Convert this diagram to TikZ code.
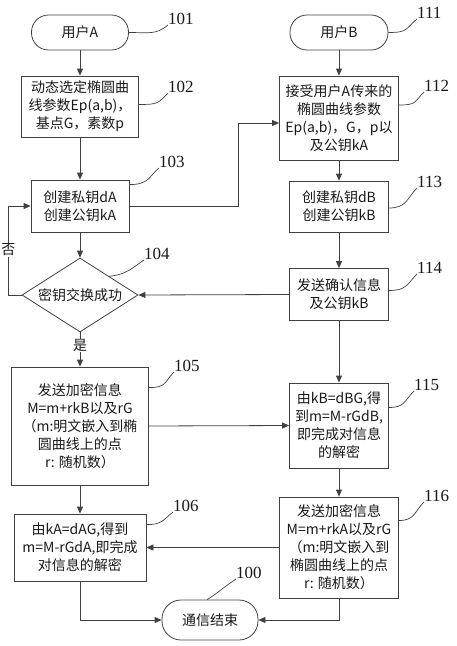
\documentclass[tikz,border=0pt]{standalone}
\usepackage{fontspec}
\setmainfont{Noto Sans CJK SC}
\newfontfamily\numfont{Liberation Serif}
\usetikzlibrary{arrows.meta,shapes.geometric}
\begin{document}
\begin{tikzpicture}[x=1pt,y=-1pt,
  every node/.style={font=\fontsize{14}{18}\selectfont, text=black!90},
  box/.style={draw=black!75, line width=0.8pt, inner sep=0pt, align=center},
  term/.style={box, rounded corners=17pt},
  lbl/.style={font=\numfont\fontsize{17}{17}\selectfont, inner sep=0pt, anchor=south west},
  arr/.style={draw=black!75, line width=0.8pt, -{Triangle[length=7pt,width=6pt]}},
  lead/.style={draw=black!75, line width=0.7pt},
]
\useasboundingbox (0,0) rectangle (456,646);

% left column
\node[term, minimum width=97pt, minimum height=35pt] (uA) at (80,32.5) {用户A};
\node[box, minimum width=117pt, minimum height=61pt] (b102) at (80,106.5) {动态选定椭圆曲\\线参数Ep(a,b)，\\基点G，素数p};
\node[box, minimum width=98pt, minimum height=52pt] (b103) at (80,206) {创建私钥dA\\创建公钥kA};
\node[draw=black!75, line width=0.8pt, diamond, aspect=1.57, minimum width=116pt, minimum height=74pt, inner sep=0pt] (d104) at (80,295) {密钥交换成功};
\node[box, minimum width=137pt, minimum height=118pt] (b105) at (80,426) {发送加密信息\\M=m+rkB以及rG\\（m:明文嵌入到椭\\圆曲线上的点\\r: 随机数）};
\node[box, minimum width=132pt, minimum height=67pt] (b106) at (80,547.5) {由kA=dAG,得到\\m=M-rGdA,即完成\\对信息的解密};
\node[term, minimum width=96pt, minimum height=40pt, rounded corners=19pt] (end) at (210,620) {通信结束};

% right column
\node[term, minimum width=98pt, minimum height=35pt] (uB) at (339,32.5) {用户B};
\node[box, minimum width=119pt, minimum height=84pt] (b112) at (339,118) {接受用户A传来的\\椭圆曲线参数\\Ep(a,b)，G，p以\\及公钥kA};
\node[box, minimum width=99pt, minimum height=51pt] (b113) at (339,206.5) {创建私钥dB\\创建公钥kB};
\node[box, minimum width=99pt, minimum height=52pt] (b114) at (339,294.5) {发送确认信息\\及公钥kB};
\node[box, minimum width=99pt, minimum height=85pt] (b115) at (339,425.5) {由kB=dBG,得\\到m=M-rGdB,\\即完成对信息\\的解密};
\node[box, minimum width=119pt, minimum height=101pt] (b116) at (339,547.5) {发送加密信息\\M=m+rkA以及rG\\（m:明文嵌入到\\椭圆曲线上的点\\r: 随机数）};

% connectors left
\draw[arr] (uA) -- (b102);
\draw[arr] (b102) -- (b103);
\draw[arr] (b103) -- (d104);
\draw[arr] (d104) -- node[pos=0.38, fill=white, inner sep=0.5pt] (yes) {是} (b105);
\draw[arr] (b105) -- (b106);
\coordinate (lp) at (8,295);
\draw[arr] (d104.west) -- (lp) |- (b103.west);
\node[fill=white, inner sep=0.5pt] (no) at (8.5,250) {否};
\draw[arr] (b106.south) |- (end.west);

% connectors right
\draw[arr] (uB) -- (b112);
\draw[arr] (b112) -- (b113);
\draw[arr] (b113) -- (b114);
\draw[arr] (b114) -- (b115);
\draw[arr] (b115) -- (b116);
\coordinate (j1) at (238,206);
\draw[arr] (b103.east) -- (j1) |- ([yshift=-5pt]b112.west);
\draw[arr] (b114.west) -- (d104.east);
\draw[arr] (b105.east) -- (b115.west);
\draw[arr] (b116.west) -- (b106.east);
\draw[arr] (b116.south) |- (end.east);

% labels
\node[lbl] (l101) at (168,25) {101};
\node[lbl] (l102) at (168,93) {102};
\node[lbl] (l103) at (159,168) {103};
\node[lbl] (l104) at (144,260) {104};
\node[lbl] (l105) at (174,372) {105};
\node[lbl] (l106) at (173,512) {106};
\node[lbl] (l100) at (236,579) {100};
\node[lbl] (l111) at (417,19) {111};
\node[lbl] (l112) at (424,92) {112};
\node[lbl] (l113) at (417,188) {113};
\node[lbl] (l114) at (417,274) {114};
\node[lbl] (l115) at (414,391) {115};
\node[lbl] (l116) at (424,502) {116};

% leaders
\draw[lead] (uA.east) .. controls +(20,0) and +(-12,10) .. (l101.south west);
\draw[lead] ([yshift=2pt]b102.east) .. controls +(20,0) and +(-10,10) .. (l102.south west);
\draw[lead] ([yshift=-5pt]b103.north east) .. controls +(20,0) and +(-10,8) .. (l103.south west);
\draw[lead] (d104.north east) .. controls +(18,-2) and +(-12,8) .. (l104.south west);
\draw[lead] ([yshift=-21pt]b105.north east) .. controls +(18,0) and +(-10,10) .. (l105.south west);
\draw[lead] ([yshift=-11pt]b106.north east) .. controls +(16,0) and +(-10,8) .. (l106.south west);
\draw[lead] ([xshift=-3pt]end.north) .. controls +(10,-6) and +(-12,8) .. (l100.south west);
\draw[lead] (uB.east) .. controls +(20,0) and +(-12,10) .. (l111.south west);
\draw[lead] ([yshift=13pt]b112.east) .. controls +(18,0) and +(-10,10) .. (l112.south west);
\draw[lead] ([yshift=-1.5pt]b113.east) .. controls +(18,0) and +(-10,10) .. (l113.south west);
\draw[lead] ([yshift=4pt]b114.east) .. controls +(18,0) and +(-10,10) .. (l114.south west);
\draw[lead] ([yshift=18pt]b115.east) .. controls +(16,0) and +(-10,10) .. (l115.south west);
\draw[lead] ([yshift=27pt]b116.east) .. controls +(16,0) and +(-10,10) .. (l116.south west);
\end{tikzpicture}
\end{document}
